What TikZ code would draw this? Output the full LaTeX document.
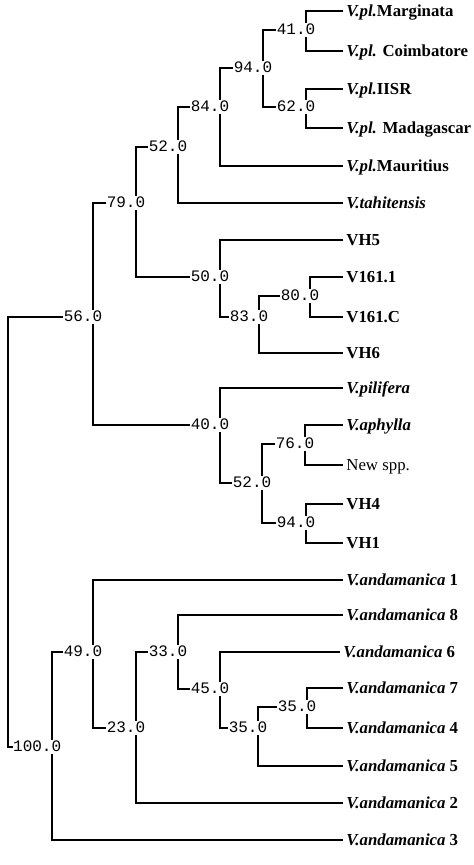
\documentclass[tikz,border=0pt]{standalone}
\usepackage{fontspec}
\setmainfont{Liberation Serif}
\newfontfamily\bootfont{Liberation Mono}
\usetikzlibrary{backgrounds}

\begin{document}
\begin{tikzpicture}[
		x=0.5pt, y=-0.5pt,
		% Define styles
		leaf/.style={
			anchor=west,
			inner xsep=1.5pt,
			inner ysep=0pt,
			text height=5.6pt,
			text depth=0pt,
			font=\fontsize{8.4}{10}\selectfont\bfseries
		},
		boot/.style={
			anchor=east,
			xshift=4.8pt,
			fill=white,
			inner xsep=0pt,
			inner ysep=1.2pt,
			text height=4.9pt,
			text depth=0pt,
			font=\bootfont\fontsize{8}{9}\selectfont
		},
		% Define branch style
		branch/.style={line width=0.6pt}
		]
		
		\useasboundingbox (0,0) rectangle (474,865);
		
		% ----- Leaves -----
		\node[leaf] (marginata) at (343, 11) {\textit{V.pl.}Marginata};
		\node[leaf] (coimbatore) at (343, 51) {\textit{V.pl.} Coimbatore};
		\node[leaf] (iisr) at (343, 89) {\textit{V.pl.}IISR};
		\node[leaf] (madagascar) at (343, 128) {\textit{V.pl.} Madagascar};
		\node[leaf] (mauritius) at (343, 166) {\textit{V.pl.}Mauritius};
		\node[leaf] (tahitensis) at (343, 203) {\textit{V.tahitensis}};
		\node[leaf] (vh5) at (343, 240) {VH5};
		\node[leaf] (v161-1) at (343, 277) {V161.1};
		\node[leaf] (v161-c) at (343, 317) {V161.C};
		\node[leaf] (vh6) at (343, 353) {VH6};
		\node[leaf] (pilifera) at (343, 388) {\textit{V.pilifera}};
		\node[leaf] (aphylla) at (343, 425) {\textit{V.aphylla}};
		\node[leaf] (new-spp) at (343, 465) {\mdseries New spp.};
		\node[leaf] (vh4) at (343, 504) {VH4};
		\node[leaf] (vh1) at (343, 543) {VH1};
		\node[leaf] (and-1) at (343, 580) {\textit{V.andamanica} 1};
		\node[leaf] (and-8) at (343, 615) {\textit{V.andamanica} 8};
		\node[leaf] (and-6) at (340, 652) {\textit{V.andamanica} 6};
		\node[leaf] (and-7) at (343, 688) {\textit{V.andamanica} 7};
		\node[leaf] (and-4) at (343, 728) {\textit{V.andamanica} 4};
		\node[leaf] (and-5) at (343, 766) {\textit{V.andamanica} 5};
		\node[leaf] (and-2) at (343, 803) {\textit{V.andamanica} 2};
		\node[leaf] (and-3) at (343, 840) {\textit{V.andamanica} 3};
		
		% ----- Junctions -----
		\coordinate (root) at (8, 532);
		\coordinate (j56) at (93, 317);
		\coordinate (j79) at (136, 203);
		\coordinate (j52a) at (178, 147);
		\coordinate (j84) at (220, 107);
		\coordinate (j94a) at (263, 68);
		\coordinate (j41) at (306, 30);
		\coordinate (j62) at (306, 107);
		\coordinate (j50) at (220, 277);
		\coordinate (j83) at (259, 317);
		\coordinate (j80) at (310, 296);
		\coordinate (j40) at (220, 425);
		\coordinate (j52b) at (262, 483);
		\coordinate (j76) at (305, 444);
		\coordinate (j94b) at (306, 523);
		\coordinate (j100) at (52, 747);
		\coordinate (j49) at (93, 652);
		\coordinate (j23) at (136, 728);
		\coordinate (j33) at (178, 652);
		\coordinate (j45) at (220, 689);
		\coordinate (j35b) at (258, 728);
		\coordinate (j35a) at (307, 707);
		
		% ----- Bootstrap values -----
		\node[boot] (n56) at (j56) {56.0};
		\node[boot] (n79) at (j79) {79.0};
		\node[boot] (n52a) at (j52a) {52.0};
		\node[boot] (n84) at (j84) {84.0};
		\node[boot] (n94a) at (j94a) {94.0};
		\node[boot] (n41) at (j41) {41.0};
		\node[boot] (n62) at (j62) {62.0};
		\node[boot] (n50) at (j50) {50.0};
		\node[boot] (n83) at (j83) {83.0};
		\node[boot] (n80) at (j80) {80.0};
		\node[boot] (n40) at (j40) {40.0};
		\node[boot] (n52b) at (j52b) {52.0};
		\node[boot] (n76) at (j76) {76.0};
		\node[boot] (n94b) at (j94b) {94.0};
		\node[boot] (n100) at (j100) {100.0};
		\node[boot] (n49) at (j49) {49.0};
		\node[boot] (n23) at (j23) {23.0};
		\node[boot] (n33) at (j33) {33.0};
		\node[boot] (n45) at (j45) {45.0};
		\node[boot] (n35b) at (j35b) {35.0};
		\node[boot] (n35a) at (j35a) {35.0};
		
		% ----- Branches -----
		\begin{scope}[on background layer]
			\draw[branch] (n56.west) -| (root) |- (n100.west);
			
			\draw[branch] (n79.west) -| (j56) |- (n40.west);
			\draw[branch] (n52a.west) -| (j79) |- (n50.west);
			\draw[branch] (n84.west) -| (j52a) |- (tahitensis.west);
			\draw[branch] (n94a.west) -| (j84) |- (mauritius.west);
			\draw[branch] (n41.west) -| (j94a) |- (n62.west);
			\draw[branch] (marginata.west) -| (j41) |- (coimbatore.west);
			\draw[branch] (iisr.west) -| (j62) |- (madagascar.west);
			\draw[branch] (vh5.west) -| (j50) |- (n83.west);
			\draw[branch] (n80.west) -| (j83) |- (vh6.west);
			\draw[branch] (v161-1.west) -| (j80) |- (v161-c.west);
			\draw[branch] (pilifera.west) -| (j40) |- (n52b.west);
			\draw[branch] (n76.west) -| (j52b) |- (n94b.west);
			\draw[branch] (aphylla.west) -| (j76) |- (new-spp.west);
			\draw[branch] (vh4.west) -| (j94b) |- (vh1.west);
			
			\draw[branch] (n49.west) -| (j100) |- (and-3.west);
			\draw[branch] (and-1.west) -| (j49) |- (n23.west);
			\draw[branch] (n33.west) -| (j23) |- (and-2.west);
			\draw[branch] (and-8.west) -| (j33) |- (n45.west);
			\draw[branch] (and-6.west) -| (j45) |- (n35b.west);
			\draw[branch] (n35a.west) -| (j35b) |- (and-5.west);
			\draw[branch] (and-7.west) -| (j35a) |- (and-4.west);
		\end{scope}
		
	\end{tikzpicture}
\end{document}
